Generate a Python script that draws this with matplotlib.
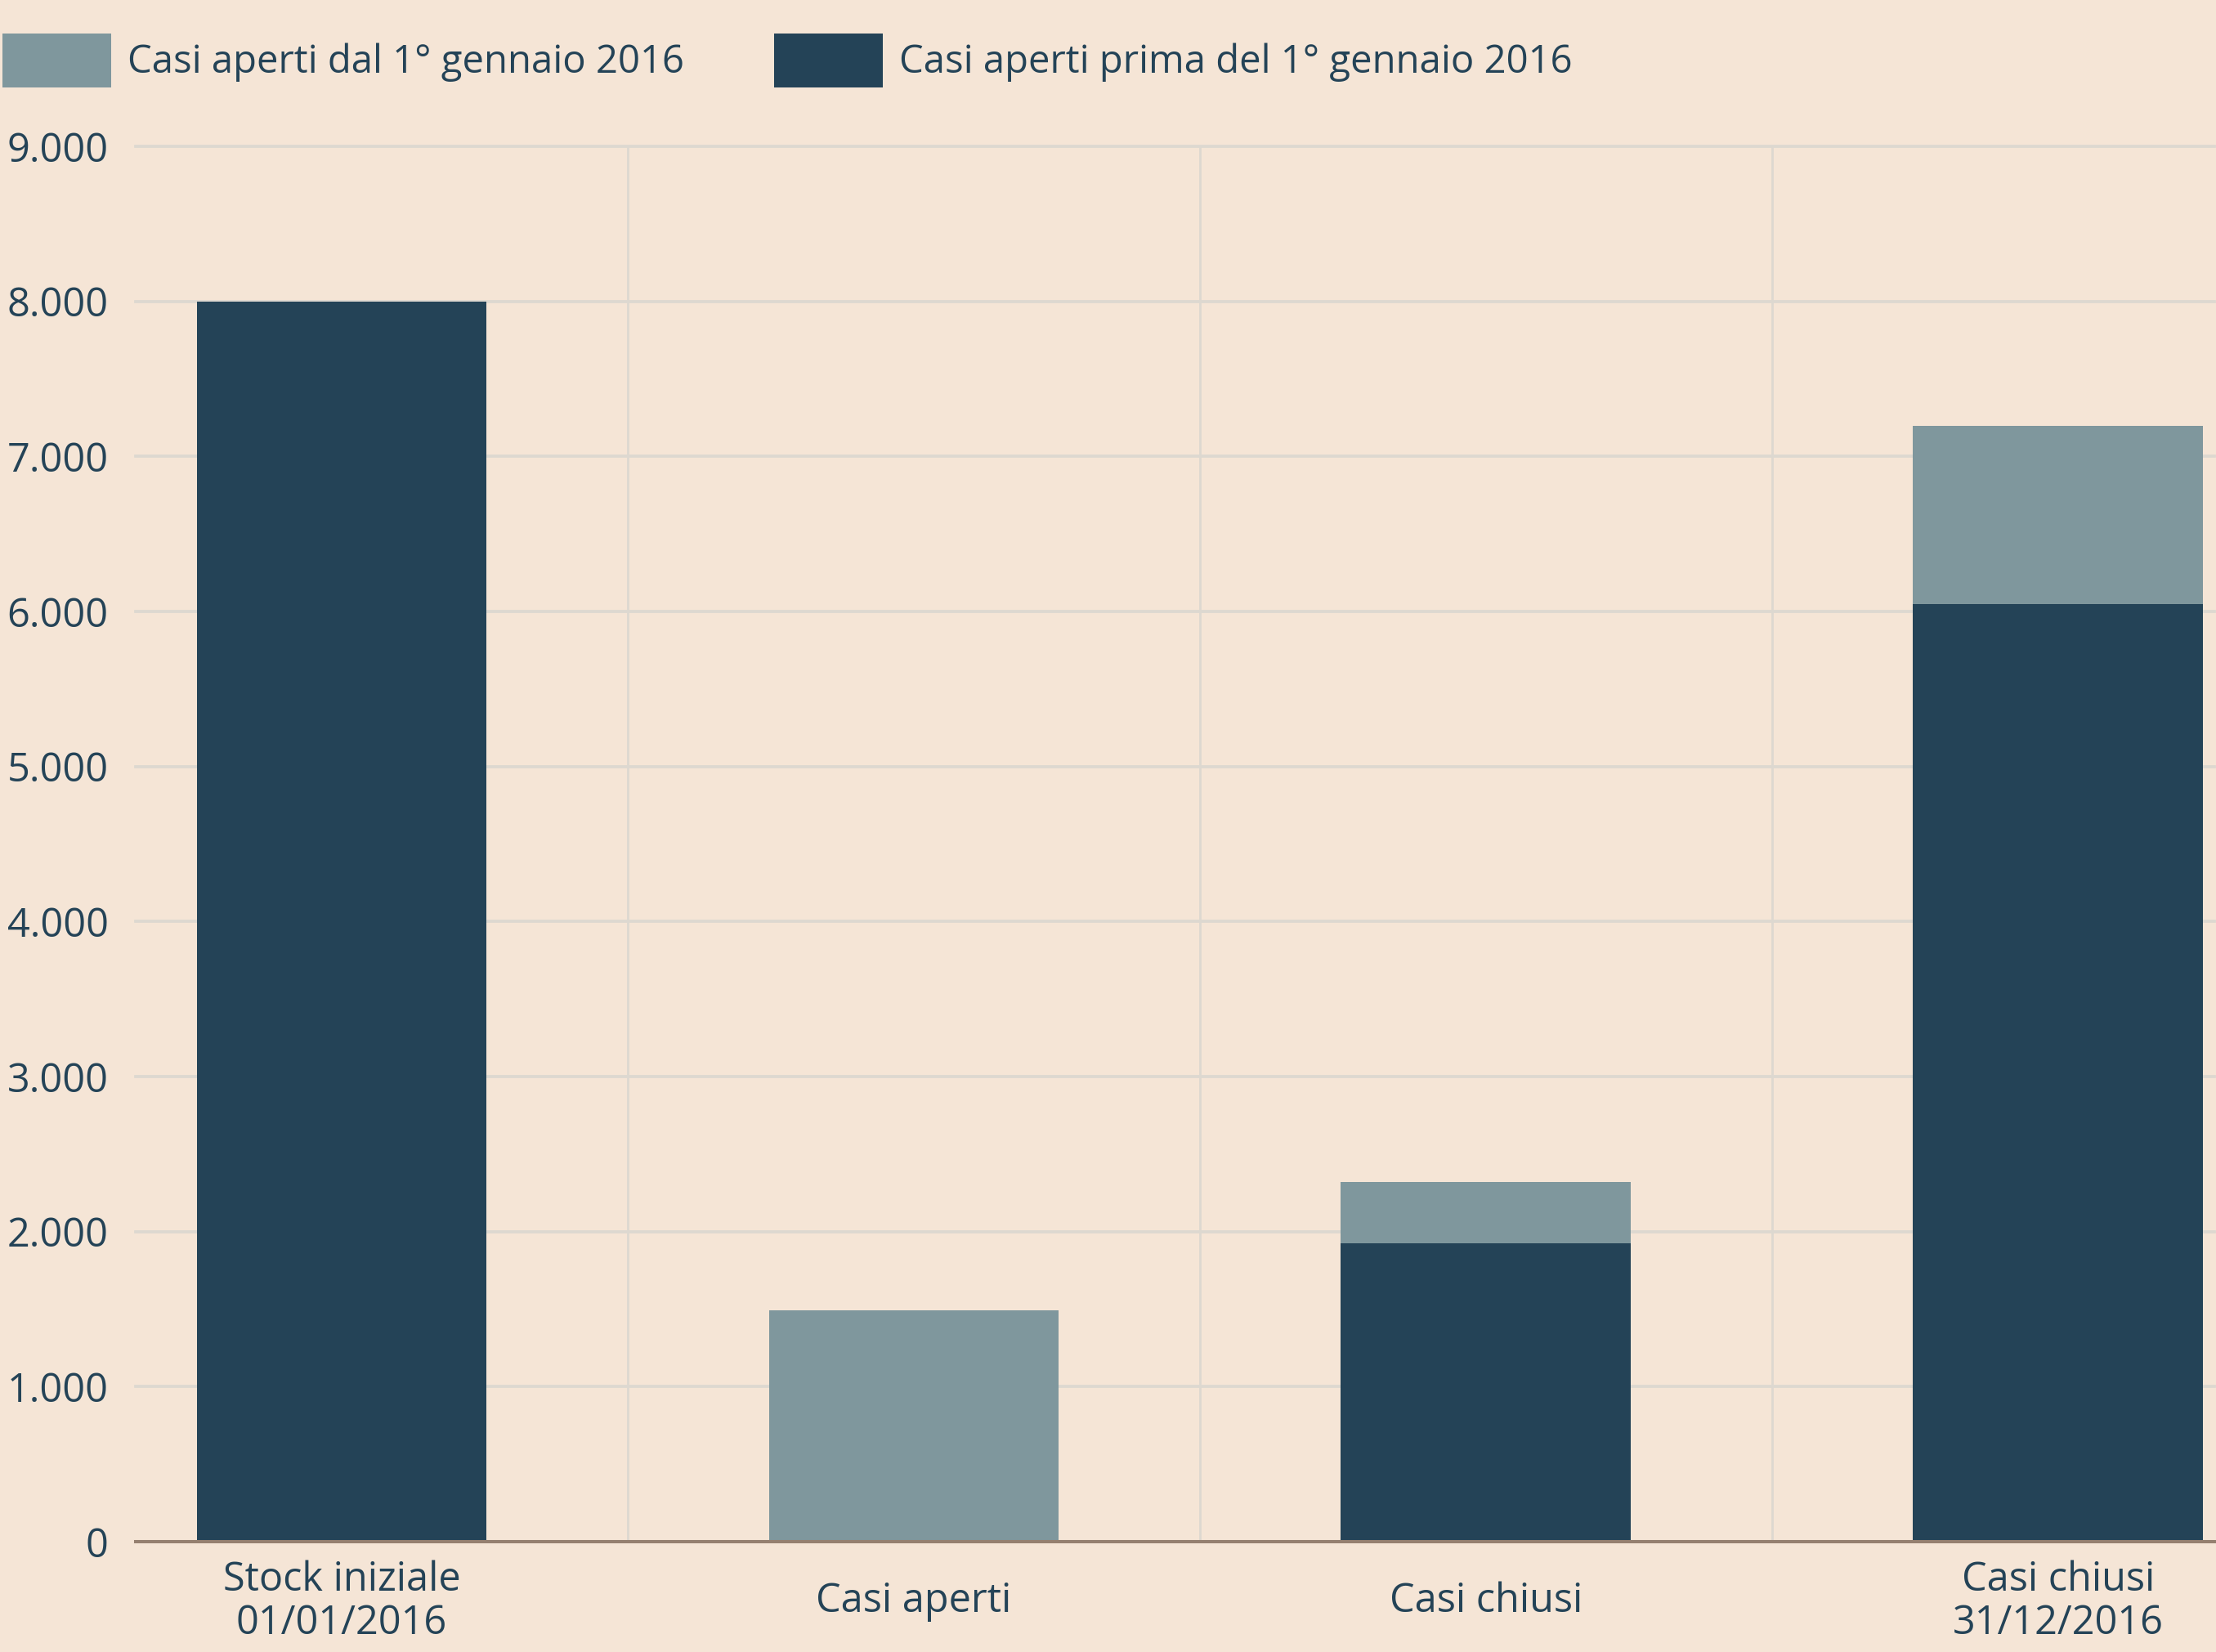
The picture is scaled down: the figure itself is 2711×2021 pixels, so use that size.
import matplotlib
matplotlib.use("Agg")
import matplotlib.pyplot as plt
from matplotlib.patches import Patch
from matplotlib.ticker import FuncFormatter, FixedLocator

categories = ["Stock iniziale\n01/01/2016", "Casi aperti", "Casi chiusi", "Casi chiusi\n31/12/2016"]
prima_2016 = [8000, 0, 1925, 6050]       # Casi aperti prima del 1° gennaio 2016
dal_2016 = [0, 1490, 395, 1145]          # Casi aperti dal 1° gennaio 2016
yticks = [0, 1000, 2000, 3000, 4000, 5000, 6000, 7000, 8000, 9000]

BG = "#F5E5D6"
DARK = "#244357"
LIGHT = "#7F979D"
GRID = "#DDD8D0"
AXIS = "#958070"
TEXT = "#244357"
FONT = ["Open Sans", "DejaVu Sans"]
FS_TICK = 35
FS_LEG = 34

plt.rcParams['font.family'] = FONT

fig = plt.figure(figsize=(27.11, 20.21), dpi=100, facecolor=BG)
ax = fig.add_axes([166/2711, 135/2021, (2709-166)/2711, (1886-179)/2021])
ax.set_facecolor(BG)

x = list(range(len(categories)))
w = 0.507
ax.bar(x, prima_2016, width=w, color=DARK, zorder=2)
ax.bar(x, dal_2016, width=w, bottom=prima_2016, color=LIGHT, zorder=2)

ax.set_xlim(-0.36, 3.273)
ax.set_ylim(0, 9000)
ax.set_yticks(yticks)
ax.yaxis.set_major_formatter(FuncFormatter(lambda v, p: f"{int(v):,}".replace(",", ".")))
ax.set_xticks(x)
ax.set_xticklabels(categories)
ax.xaxis.set_minor_locator(FixedLocator([0.5, 1.5, 2.5]))

ax.set_axisbelow(True)
ax.grid(axis='y', which='major', color=GRID, linewidth=2.7)
ax.grid(axis='x', which='minor', color=GRID, linewidth=2.0)
ax.grid(axis='x', which='major', visible=False)
for gl in ax.get_ygridlines():
    gl.set_clip_on(False)

for s in ["top", "right", "left"]:
    ax.spines[s].set_visible(False)
ax.spines["bottom"].set_color(AXIS)
ax.spines["bottom"].set_linewidth(2.9)
ax.spines["bottom"].set_zorder(3)

ax.tick_params(axis='both', which='both', length=0, colors=TEXT, labelsize=FS_TICK)
ax.tick_params(axis='y', pad=24)
ax.tick_params(axis='x', pad=53)
for lab in ax.get_xticklabels():
    lab.set_va('center')
    lab.set_linespacing(1.08)
    lab.set_multialignment('center')

fpx = FS_LEG * 100 / 72
patch_h = 66.0
hh = (patch_h / fpx - 0.245) / 0.65
handles = [Patch(facecolor=LIGHT, edgecolor='none', label="Casi aperti dal 1° gennaio 2016"),
           Patch(facecolor=DARK, edgecolor='none', label="Casi aperti prima del 1° gennaio 2016")]
leg = fig.legend(handles=handles, loc='upper left', bbox_to_anchor=(3/2711, 1-41/2021),
                 ncol=2, frameon=False, fontsize=FS_LEG, borderpad=0, borderaxespad=0,
                 handlelength=133/fpx, handleheight=hh,
                 handletextpad=20/fpx, columnspacing=110/fpx)
for t in leg.get_texts():
    t.set_color(TEXT)

fig.savefig("out.png", dpi=100, facecolor=BG)
